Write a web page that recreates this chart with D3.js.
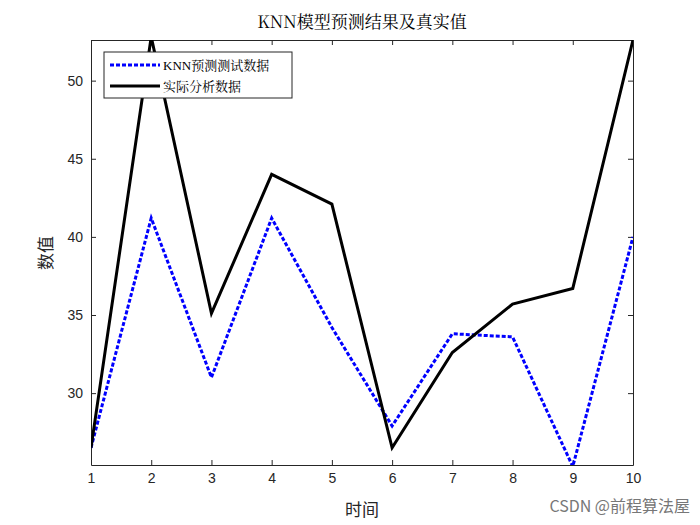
<!DOCTYPE html><html><head><meta charset="utf-8"><script src="https://cdn.jsdelivr.net/npm/d3@7"></script>
<style>body{margin:0;background:#fff}</style></head><body><svg id="c" width="700" height="525"></svg>
<script>
const xs=[1,2,3,4,5,6,7,8,9,10];
const knn=[26.5,41.2,31.0,41.2,34.2,27.9,33.8,33.6,25.3,40.0];
const actual=[26.5,52.8,35.1,44.0,42.1,26.5,32.6,35.7,36.7,52.6];
const yTicks=[30,35,40,45,50];
const svg=d3.select("#c");
const L=91,R=633,T=40,B=465;
const x=d3.scaleLinear().domain([1,10]).range([L,R]);
const y=d3.scaleLinear().domain([25.4,52.6]).range([B,T]);
svg.append("defs").append("clipPath").attr("id","cp").append("rect").attr("x",L).attr("y",T).attr("width",R-L).attr("height",B-T);
const g=svg.append("g");
g.append("g").attr("transform",`translate(0,${B})`).call(d3.axisBottom(x).tickValues(xs).tickSizeInner(-5).tickSizeOuter(0).tickPadding(8));
g.append("g").attr("transform",`translate(${L},0)`).call(d3.axisLeft(y).tickValues(yTicks).tickSizeInner(-5).tickSizeOuter(0).tickPadding(8));
g.append("g").attr("transform",`translate(0,${T})`).call(d3.axisTop(x).tickValues(xs).tickSizeInner(-5).tickSizeOuter(0).tickFormat(""));
g.append("g").attr("transform",`translate(${R},0)`).call(d3.axisRight(y).tickValues(yTicks).tickSizeInner(-5).tickSizeOuter(0).tickFormat(""));
g.selectAll(".domain,.tick line").attr("stroke","#262626");
g.selectAll("text").attr("font-family","Liberation Sans, Arial").attr("font-size",14).attr("fill","#262626");
const line=d3.line().x((d,i)=>x(xs[i])).y(d=>y(d));
const pl=svg.append("g").attr("clip-path","url(#cp)");
pl.append("path").datum(knn).attr("d",line).attr("fill","none").attr("stroke","#0000ff").attr("stroke-width",3).attr("stroke-dasharray","4,2");
pl.append("path").datum(actual).attr("d",line).attr("fill","none").attr("stroke","#000").attr("stroke-width",3);
svg.append("text").attr("x",362).attr("y",28).attr("text-anchor","middle").attr("font-family","Noto Serif CJK SC, Noto Sans CJK SC, serif").attr("font-size",17).text("KNN模型预测结果及真实值");
svg.append("text").attr("x",362).attr("y",516).attr("text-anchor","middle").attr("font-family","Noto Sans CJK SC").attr("font-size",17).attr("fill","#262626").text("时间");
svg.append("text").attr("transform","translate(52,253) rotate(-90)").attr("text-anchor","middle").attr("font-family","Noto Sans CJK SC").attr("font-size",17).attr("fill","#262626").text("数值");
const lg=svg.append("g");
lg.append("rect").attr("x",104).attr("y",52).attr("width",188).attr("height",46).attr("fill","#fff").attr("stroke","#262626");
lg.append("line").attr("x1",110).attr("x2",160).attr("y1",65).attr("y2",65).attr("stroke","#00f").attr("stroke-width",3).attr("stroke-dasharray","4,2");
lg.append("line").attr("x1",110).attr("x2",160).attr("y1",86).attr("y2",86).attr("stroke","#000").attr("stroke-width",3);
lg.append("text").attr("x",163).attr("y",70).attr("font-family","Liberation Serif, Noto Serif CJK SC, serif").attr("font-size",13).text("KNN预测测试数据");
lg.append("text").attr("x",163).attr("y",91).attr("font-family","Liberation Serif, Noto Serif CJK SC, serif").attr("font-size",13).text("实际分析数据");
svg.append("text").attr("x",690).attr("y",512).attr("text-anchor","end").attr("font-family","Noto Sans CJK SC").attr("font-size",16).attr("fill","#777").text("CSDN @前程算法屋");
</script></body></html>
